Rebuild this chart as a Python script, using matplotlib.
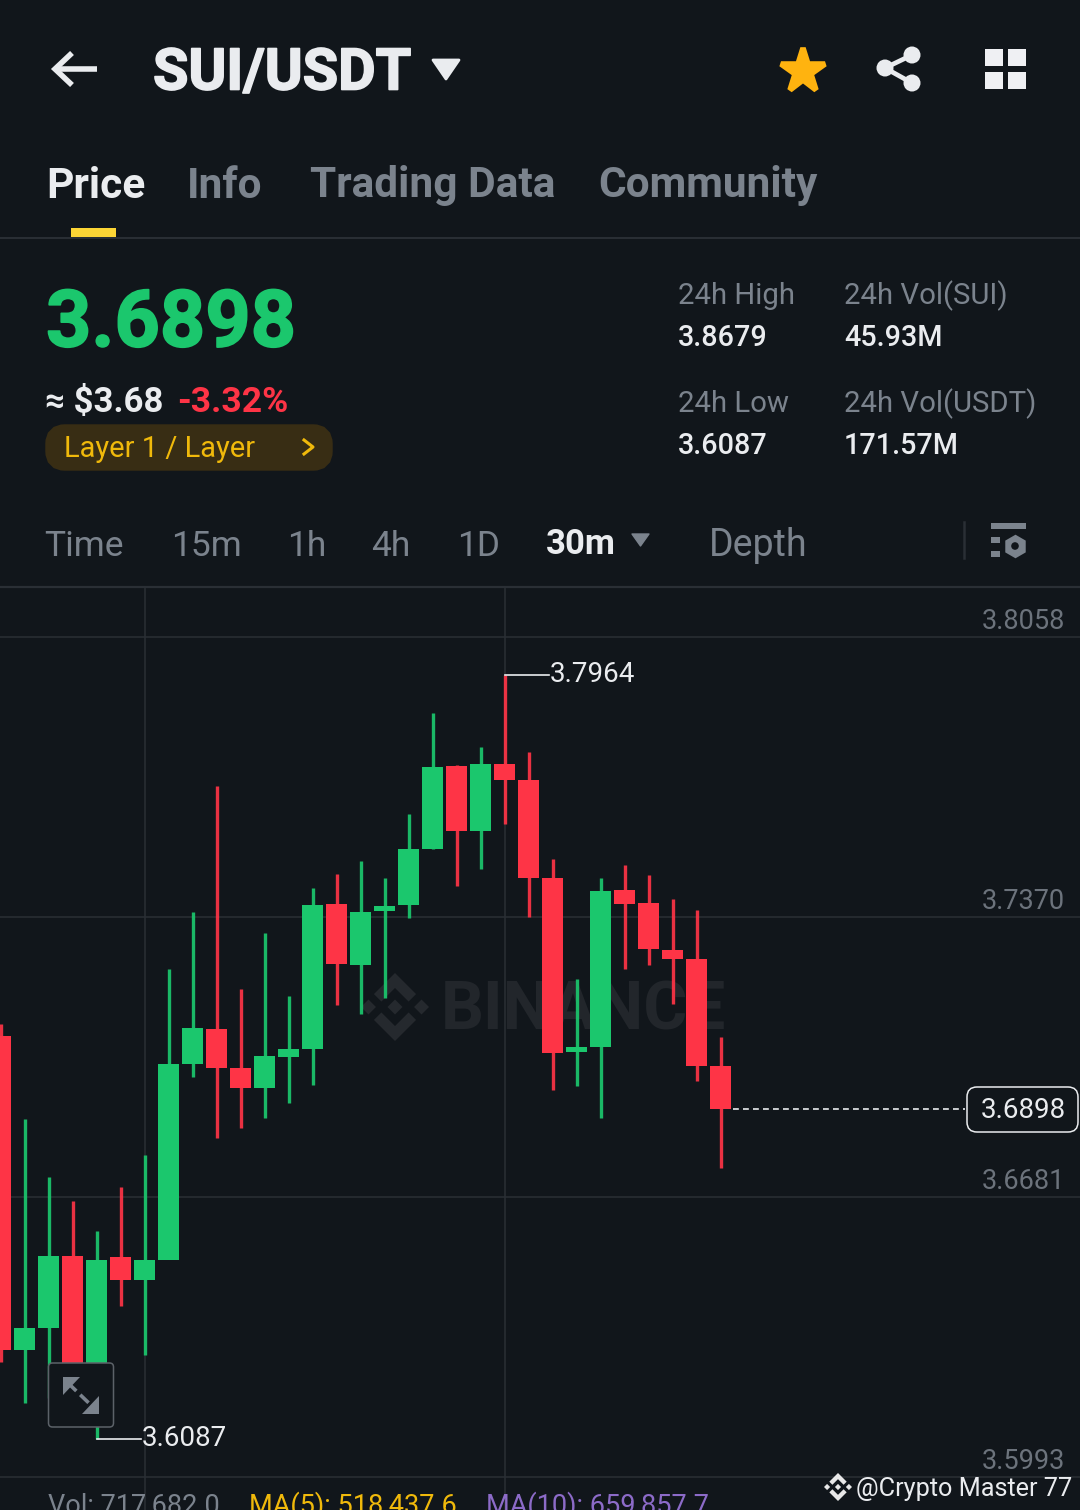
import matplotlib
matplotlib.use("Agg")
import matplotlib.pyplot as plt
import matplotlib.patheffects as pe
from matplotlib.patches import FancyBboxPatch, Polygon, Rectangle, Circle

# candles, oldest first (spacing of 30m)
opens = [3.7077, 3.6305, 3.6360, 3.6537, 3.6232, 3.6534, 3.6478, 3.6527, 3.7008, 3.7095, 3.6999,
         3.6949, 3.7026, 3.7045, 3.7402, 3.7252, 3.7385, 3.7399, 3.7537, 3.7741, 3.7581,
         3.7746, 3.7707, 3.7466, 3.7038, 3.7050, 3.7436, 3.7404, 3.7289, 3.7267, 3.7004]
closes = [3.6305, 3.6360, 3.6537, 3.6232, 3.6527, 3.6478, 3.6527, 3.7008, 3.7097, 3.6999, 3.6949,
          3.7028, 3.7045, 3.7399, 3.7254, 3.7382, 3.7397, 3.7537, 3.7738, 3.7581, 3.7746,
          3.7707, 3.7466, 3.7035, 3.7050, 3.7434, 3.7402, 3.7291, 3.7267, 3.7004, 3.6898]
highs = [3.7107, 3.6873, 3.6731, 3.6672, 3.6598, 3.6706, 3.6785, 3.7242, 3.7382, 3.7692, 3.7193,
         3.7330, 3.7176, 3.7441, 3.7475, 3.7507, 3.7466, 3.7623, 3.7871, 3.7743, 3.7788,
         3.7964, 3.7775, 3.7512, 3.7217, 3.7466, 3.7498, 3.7473, 3.7414, 3.7387, 3.7075]
lows = [3.6276, 3.6175, 3.6187, 3.6183, 3.6087, 3.6414, 3.6293, 3.7008, 3.6977, 3.6827, 3.6851,
        3.6876, 3.6913, 3.6957, 3.7153, 3.7131, 3.7171, 3.7367, 3.7537, 3.7446, 3.7488,
        3.7598, 3.7370, 3.6945, 3.6954, 3.6876, 3.7242, 3.7252, 3.7156, 3.6967, 3.6753]

price_ticks = [3.8058, 3.7370, 3.6681, 3.5993]
last_price = 3.6898

tabs = ["Price", "Info", "Trading Data", "Community"]
tab_x = [46, 187, 310, 598]
intervals = ["Time", "15m", "1h", "4h", "1D"]
interval_x = [44, 171, 287, 371, 457]

BG = "#11161b"
WHITE = "#eaecef"
GRAY = "#7b838d"
AXIS_GRAY = "#6c737c"
LINE = "#2a2f35"
GREEN = "#1bc76d"
RED = "#fe3446"
YELLOW = "#f0b90b"
FONT = "Roboto"

fig = plt.figure(figsize=(10.8, 15.1), dpi=100, facecolor=BG)


def px_axes(z):
    a = fig.add_axes([0, 0, 1, 1], zorder=z)
    a.set_xlim(0, 1080)
    a.set_ylim(1510, 0)
    a.axis("off")
    return a


def logo(a, cx, cy, r, color):
    top = [(0, 1), (0.62, 0.38), (0.4, 0.16), (0, 0.56), (-0.4, 0.16), (-0.62, 0.38)]
    for sign in (1, -1):
        a.add_patch(Polygon([(cx + r * x, cy - sign * r * y) for x, y in top], color=color, lw=0))
    for dx in (-0.78, 0, 0.78):
        d = 0.22
        a.add_patch(Polygon([(cx + r * (dx - d), cy), (cx + r * dx, cy - r * d),
                             (cx + r * (dx + d), cy), (cx + r * dx, cy + r * d)], color=color, lw=0))


# watermark sits under the candles
bg = px_axes(0)
logo(bg, 395, 1007, 34, "#25292e")
bg.text(441, 1011, "BINANCE", color="#22262b", fontsize=48.5, fontweight="bold", family=FONT,
        va="center", ha="left")

# chart, x is candle number, y is price
px_per_price = 840 / (price_ticks[0] - price_ticks[-1])
top_px = 588
ax = fig.add_axes([0, 0, 1, (1510 - top_px) / 1510], zorder=1)
ax.patch.set_alpha(0)
ax.set_xlim(-0.5 / 24, 1079.5 / 24)
ax.set_ylim(price_ticks[0] - (1510 - 637) / px_per_price, price_ticks[0] + (637 - top_px) / px_per_price)
ax.axis("off")

for p in price_ticks:
    ax.axhline(p, color=LINE, lw=1.1, zorder=1)
    ax.annotate(f"{p:.4f}", (1065 / 1080, p), xycoords=ax.get_yaxis_transform(), xytext=(0, 1.5),
                textcoords="offset points", ha="right", va="bottom", color=AXIS_GRAY, fontsize=19.5, family=FONT)
for i in (6, 21):
    ax.axvline(i, color=LINE, lw=1.1, zorder=1)

for i in range(len(opens)):
    color = GREEN if closes[i] >= opens[i] else RED
    ax.vlines(i, lows[i], highs[i], color=color, lw=2.4, zorder=2, alpha=0.92)
    ax.bar(i, abs(closes[i] - opens[i]), bottom=min(opens[i], closes[i]), width=0.875, color=color, lw=0, zorder=3)

hi = max(highs)
lo = min(lows)
hi_i = highs.index(hi)
lo_i = lows.index(lo)
ax.plot([hi_i, hi_i + 1.85], [hi, hi], color=WHITE, lw=1.2, zorder=4)
ax.text(hi_i + 1.87, hi + 0.0002, f"{hi:.4f}", color=WHITE, fontsize=20, family=FONT, va="center", zorder=4)
ax.plot([lo_i, lo_i + 1.85], [lo, lo], color=WHITE, lw=1.2, zorder=4)
ax.text(lo_i + 1.87, lo, f"{lo:.4f}", color=WHITE, fontsize=20, family=FONT, va="center", zorder=4)
ax.plot([30.5, 40.2], [last_price, last_price], color=WHITE, lw=1.2, dashes=(3.5, 2.5), zorder=4)

# app chrome on top
ui = px_axes(2)


def txt(x, y, s, color=WHITE, size=20, weight="normal", ha="left", stroke=0):
    t = ui.text(x, y, s, color=color, fontsize=size, fontweight=weight, family=FONT, ha=ha, va="center")
    if stroke:
        t.set_path_effects([pe.withStroke(linewidth=stroke, foreground=color)])


def hline(y, x0=0, x1=1080, color=LINE, lw=1.4):
    ui.plot([x0, x1], [y, y], color=color, lw=lw, solid_capstyle="butt")


# header
ui.plot([56, 97], [69, 69], color=WHITE, lw=4, solid_capstyle="butt")
ui.plot([72, 55, 72], [53, 69, 85], color=WHITE, lw=4, solid_joinstyle="miter", solid_capstyle="butt")
txt(153, 74, "SUI/USDT", size=41.5, weight="bold", stroke=1.2)
ui.add_patch(Polygon([(433, 60), (459, 60), (446, 79)], color=WHITE, lw=2, joinstyle="round"))
ui.plot(803, 71, marker="*", ms=33, color="#ffb30f", mec="#ffb30f", mew=4, mfc="#ffb30f")
ui.plot([912, 885, 912], [55, 68, 83], color=WHITE, lw=3.4)
for cx, cy, r in [(912, 55, 8.5), (885, 68, 8.5), (912, 83, 8.5)]:
    ui.add_patch(Circle((cx, cy), r, color=WHITE, lw=0, zorder=3))
for x0 in (985, 1008):
    for y0 in (49, 72):
        ui.add_patch(Rectangle((x0, y0), 18, 17, color="#eff0f3", lw=0))

# tabs
for i, t in enumerate(tabs):
    txt(tab_x[i], 186, t, color=WHITE if i == 0 else GRAY, size=30.5, weight="bold")
ui.add_patch(Rectangle((71, 228), 45, 9, color="#fcd535", lw=0))
hline(238)

# price block
txt(46, 325, "3.6898", color=GREEN, size=57, weight="bold", stroke=1.2)
txt(45, 403, "≈ $3.68", size=25, weight="bold")
txt(177, 403, "-3.32%", color=RED, size=25.5, weight="bold")
ui.add_patch(FancyBboxPatch((55, 434), 268, 27, boxstyle="round,pad=0,rounding_size=10",
                            mutation_aspect=1, facecolor="#382d14", edgecolor="#382d14", lw=14))
txt(64, 449, "Layer 1 / Layer", color=YELLOW, size=21)
ui.plot([304, 313, 304], [440, 447, 454], color=YELLOW, lw=2.2)

for x, y, name, val in [(678, 296, "24h High", "3.8679"), (844, 296, "24h Vol(SUI)", "45.93M"),
                        (678, 404, "24h Low", "3.6087"), (844, 404, "24h Vol(USDT)", "171.57M")]:
    txt(x, y, name, color=GRAY, size=21.2)
    txt(x, y + 42, val, size=20.7, weight="medium")

# interval row
for x, t in zip(interval_x, intervals):
    txt(x, 546, t, color=GRAY, size=25.5)
txt(546, 545, "30m", size=25, weight="bold")
ui.add_patch(Polygon([(632, 534), (649, 534), (640.5, 546)], color=GRAY, lw=1, joinstyle="round"))
txt(709, 546, "Depth", color=GRAY, size=27)
ui.plot([964, 964], [522, 558], color=LINE, lw=1.8)
ui.add_patch(Rectangle((991, 523), 35, 5.5, color=GRAY, lw=0))
ui.add_patch(Rectangle((991, 537), 9, 5.5, color=GRAY, lw=0))
ui.add_patch(Rectangle((991, 551), 9, 5.5, color=GRAY, lw=0))
ui.plot(1015, 546, marker="h", ms=17, color=GRAY, mew=0)
ui.add_patch(Circle((1015, 546), 3.8, color=BG, lw=0, zorder=3))
hline(587, lw=1.6)

# last price box
ui.add_patch(FancyBboxPatch((967, 1087), 111, 45, boxstyle="round,pad=0,rounding_size=10",
                            facecolor=BG, edgecolor=WHITE, lw=1.1))
txt(1023, 1111, f"{last_price:.4f}", size=20, ha="center")

# expand button
ui.add_patch(FancyBboxPatch((48.5, 1363), 65, 64, boxstyle="round,pad=0,rounding_size=4",
                            facecolor=BG, edgecolor="#5c6269", lw=1.1))
ui.plot([68, 94], [1383, 1408], color=GRAY, lw=2.6, dashes=(3.2, 1.5))
ui.add_patch(Polygon([(63, 1377), (80, 1377), (63, 1395)], color=GRAY, lw=0))
ui.add_patch(Polygon([(99, 1414), (82, 1414), (99, 1396)], color=GRAY, lw=0))

# footer, cut by the bottom of the screenshot
txt(48, 1506, "Vol: 717,682.0", color=GRAY, size=19.5)
txt(249, 1506, "MA(5): 518,437.6", color=YELLOW, size=19.5)
txt(486, 1506, "MA(10): 659,857.7", color="#8c6bc8", size=19.5)

# reposter tag
logo(ui, 838, 1487, 14, "#e8e8e8")
txt(856, 1489, "@Crypto Master 77", size=18.2)

fig.savefig("out.png", dpi=100, facecolor=BG)
